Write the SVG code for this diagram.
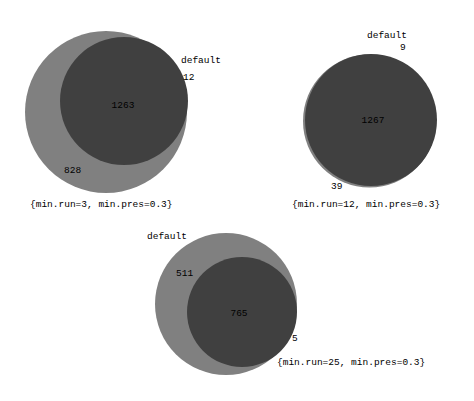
<svg xmlns="http://www.w3.org/2000/svg" width="474" height="401" viewBox="0 0 474 401">
<style>
.light{fill:#808080}
.dark{fill:#404040}
text{font-family:"Liberation Mono","Courier New",monospace;font-size:9.5px;fill:#000}
.m{text-anchor:middle}
</style>
<rect width="474" height="401" fill="#fff"/>
<g id="venn1">
<circle class="light" cx="106" cy="112" r="81"/>
<circle class="dark" cx="124" cy="101" r="64"/>
<text x="181" y="63">default</text>
<text x="183" y="80">12</text>
<text class="m" x="123" y="108">1263</text>
<text x="64" y="173">828</text>
<text x="30" y="207">{min.run=3, min.pres=0.3}</text>
</g>
<g id="venn2">
<circle class="light" cx="369.5" cy="121" r="66.5"/>
<circle class="dark" cx="371" cy="120" r="66"/>
<text x="367" y="38">default</text>
<text x="400" y="50">9</text>
<text class="m" x="373" y="123">1267</text>
<text x="331" y="189">39</text>
<text x="292" y="207">{min.run=12, min.pres=0.3}</text>
</g>
<g id="venn3">
<circle class="light" cx="226" cy="304" r="71"/>
<circle class="dark" cx="242" cy="312" r="55"/>
<text x="147" y="239">default</text>
<text x="176" y="276">511</text>
<text class="m" x="239" y="316">765</text>
<text x="292" y="341">5</text>
<text x="277" y="365">{min.run=25, min.pres=0.3}</text>
</g>
<g id="connectors"></g>
</svg>
